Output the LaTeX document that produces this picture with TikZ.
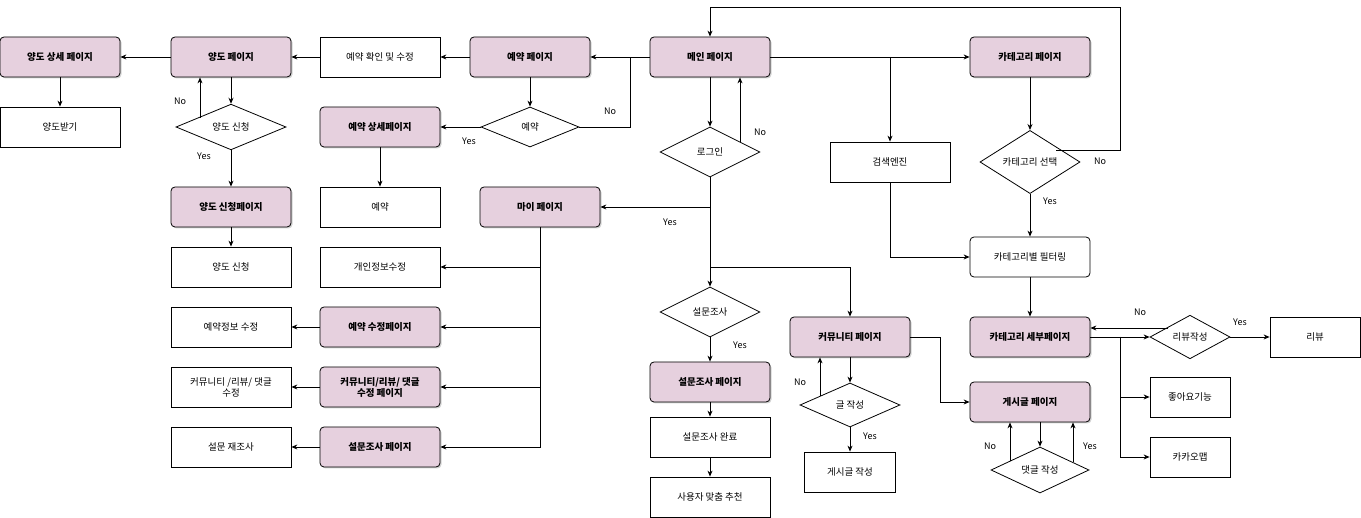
\documentclass[tikz,border=0pt]{standalone}
\usepackage{fontspec}
\setmainfont{Noto Sans CJK KR}
\usepackage{tikz}
\usetikzlibrary{arrows.meta, shapes.geometric, shadows}

\definecolor{pagepink}{HTML}{E6D0DE}

\begin{document}
\begin{tikzpicture}[x=1pt, y=-1pt, font=\fontsize{9.5}{11}\selectfont,
  box/.style = {draw, minimum width=120, minimum height=40, inner sep=1pt, align=center},
  page/.style = {box, fill=pagepink, rounded corners=4pt, font=\fontsize{9.5}{11}\selectfont\bfseries,
                 drop shadow={shadow xshift=1.5pt, shadow yshift=-1.5pt, opacity=0.35}},
  decision/.style = {draw, diamond, inner sep=0pt, minimum width=#1, minimum height=50},
  decision/.default = 100,
  lbl/.style = {font=\fontsize{9}{10}\selectfont},
  every path/.style = {line width=0.8pt},
  >={Stealth[length=6pt, width=5pt]}]
  \useasboundingbox (0,0) rectangle (1361,518);

  \node (ydDetail) [page] at (60,57) {양도 상세 페이지};
  \node (ydPage) [page] at (231,57) {양도 페이지};
  \node (rsvCheck) [box] at (380,57) {예약 확인 및 수정};
  \node (rsvPage) [page] at (530,57) {예약 페이지};
  \node (main) [page] at (710,57) {메인 페이지};
  \node (catPage) [page] at (1030,57) {카테고리 페이지};

  \node (ydGet) [box] at (60,127) {양도받기};
  \node (ydAsk) [decision=110, minimum height=40] at (231,127) {양도 신청};
  \node (rsvDetail) [page] at (380,127) {예약 상세페이지};
  \node (rsvAsk) [decision=98, minimum height=40] at (530,127) {예약};
  \node (login) [decision] at (710,152) {로그인};
  \node (search) [box] at (890,162) {검색엔진};
  \node (catSel) [decision] at (1030,162) {카테고리 선택};

  \node (ydApply) [page] at (231,207) {양도 신청페이지};
  \node (rsvDo) [box] at (380,207) {예약};
  \node (myPage) [page] at (540,207) {마이 페이지};
  \node (filter) [box, rounded corners=4pt] at (1030,257) {카테고리별 필터링};

  \node (ydApplyDo) [box] at (231,267) {양도 신청};
  \node (infoEdit) [box] at (380,267) {개인정보수정};
  \node (rsvEditDo) [box] at (231,327) {예약정보 수정};
  \node (rsvEdit) [page] at (380,327) {예약 수정페이지};
  \node (cmtEditDo) [box] at (231,387) {커뮤니티 /리뷰/ 댓글\\수정};
  \node (cmtEdit) [page] at (380,387) {커뮤니티/리뷰/ 댓글\\수정 페이지};
  \node (surveyRe) [box] at (231,447) {설문 재조사};
  \node (surveyEdit) [page] at (380,447) {설문조사 페이지};

  \node (surveyAsk) [decision] at (710,312) {설문조사};
  \node (surveyPage) [page] at (710,382) {설문조사 페이지};
  \node (surveyDone) [box] at (710,437) {설문조사 완료};
  \node (recommend) [box] at (710,497) {사용자 맞춤 추천};

  \node (community) [page] at (850,337) {커뮤니티 페이지};
  \node (writeAsk) [decision, minimum height=44] at (850,405) {글 작성};
  \node (postWrite) [box, minimum width=91] at (850,472) {게시글 작성};
  \node (catDetail) [page] at (1030,337) {카테고리 세부페이지};
  \node (postPage) [page] at (1030,402) {게시글 페이지};
  \node (replyAsk) [decision=98, minimum height=46] at (1040,470) {댓글 작성};
  \node (reviewAsk) [decision=80, minimum height=40] at (1190,337) {리뷰작성};
  \node (review) [box, minimum width=90] at (1315,337) {리뷰};
  \node (like) [box, minimum width=80] at (1190,397) {좋아요기능};
  \node (kakao) [box, minimum width=80] at (1190,457) {카카오맵};

  \coordinate (ydNo) at (200,118);
  \coordinate (rsvJoin) at (630,57);
  \coordinate (loginNo) at (740,142);
  \coordinate (loginJoin) at (710,267);
  \coordinate (catNo) at (1056,150);
  \coordinate (mainTop) at (710,7);
  \coordinate (reviewNo) at (1168,328);
  \coordinate (writeNo) at (820,396);
  \coordinate (replyNo) at (1010,461);
  \coordinate (replyYes) at (1073,462);

  \draw [->] (ydPage) -- (ydDetail);
  \draw [->] (ydDetail) -- (ydGet);
  \draw [->] (rsvCheck) -- (ydPage);
  \draw [->] (rsvPage) -- (rsvCheck);
  \draw [->] (main) -- (rsvPage);
  \draw [->] (ydPage) -- (ydAsk);
  \draw [->] (ydNo) -- (ydNo |- ydPage.south);
  \draw [->] (ydAsk) -- (ydApply);
  \draw [->] (ydApply) -- (ydApplyDo);
  \draw [->] (rsvPage) -- (rsvAsk);
  \draw [->] (rsvAsk) -- (rsvDetail);
  \draw (rsvAsk.east) -| (rsvJoin);
  \draw [->] (rsvDetail) -- (rsvDo);

  \draw [->] (main) -- (login);
  \draw [->] (loginNo) -- (loginNo |- main.south);
  \draw [->] (login.south) |- (myPage.east);
  \draw [->] (login.south) -- (surveyAsk.north);
  \draw [->] (loginJoin) -| (community.north);
  \foreach \t in {infoEdit, rsvEdit, cmtEdit, surveyEdit}
    \draw [->] (myPage.south) |- (\t.east);
  \draw [->] (rsvEdit) -- (rsvEditDo);
  \draw [->] (cmtEdit) -- (cmtEditDo);
  \draw [->] (surveyEdit) -- (surveyRe);
  \draw [->] (surveyAsk) -- (surveyPage);
  \draw [->] (surveyPage) -- (surveyDone);
  \draw [->] (surveyDone) -- (recommend);

  \draw [->] (main) -- (catPage);
  \draw [->] (search.north |- main.east) -- (search.north);
  \draw [->] (search.south) |- (filter.west);
  \draw [->] (catPage) -- (catSel);
  \draw [->] (catNo) -- (1120,150) -- (1120,7) -- (mainTop) -- (main.north);
  \draw [->] (catSel) -- (filter);
  \draw [->] (filter) -- (catDetail);
  \draw [->] (catDetail) -- (reviewAsk);
  \draw [->] (reviewNo) -- (reviewNo -| catDetail.east);
  \draw [->] (reviewAsk) -- (review);
  \draw [->] (1120,337) |- (like.west);
  \draw [->] (1120,337) |- (kakao.west);

  \draw [->] (community) -- (writeAsk);
  \draw [->] (writeNo) -- (writeNo |- community.south);
  \draw [->] (writeAsk) -- (postWrite);
  \draw [->] (community.east) -- (940,337) |- (postPage.west);
  \draw [->] (replyAsk.north |- postPage.south) -- (replyAsk.north);
  \draw [->] (replyNo) -- (replyNo |- postPage.south);
  \draw [->] (replyYes) -- (replyYes |- postPage.south);

  \node [lbl] at (180,101) {No};
  \node [lbl] at (204,156) {Yes};
  \node [lbl] at (469,141) {Yes};
  \node [lbl] at (610,111) {No};
  \node [lbl] at (760,132) {No};
  \node [lbl] at (670,222) {Yes};
  \node [lbl] at (740,345) {Yes};
  \node [lbl] at (1100,161) {No};
  \node [lbl] at (1050,201) {Yes};
  \node [lbl] at (1140,312) {No};
  \node [lbl] at (1240,322) {Yes};
  \node [lbl] at (800,382) {No};
  \node [lbl] at (870,436) {Yes};
  \node [lbl] at (990,446) {No};
  \node [lbl] at (1090,446) {Yes};
\end{tikzpicture}
\end{document}
